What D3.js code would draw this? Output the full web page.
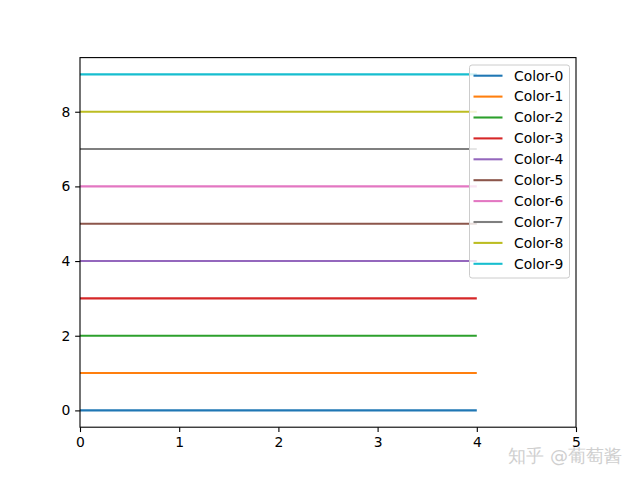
<!DOCTYPE html>
<html>
<head>
<meta charset="utf-8">
<script src="https://cdn.jsdelivr.net/npm/d3@7"></script>
<style>
  body { margin: 0; background: #fff; }
  text { font-family: "DejaVu Sans", sans-serif; }
</style>
</head>
<body>
<div class="canvas"></div>
<script>
// data
const names = ['Color-0','Color-1','Color-2','Color-3','Color-4','Color-5','Color-6','Color-7','Color-8','Color-9'];
const levels = [0, 1, 2, 3, 4, 5, 6, 7, 8, 9];
const xStart = 0;
const xEnd = 4;
const colors = ['#1f77b4','#ff7f0e','#2ca02c','#d62728','#9467bd','#8c564b','#e377c2','#7f7f7f','#bcbd22','#17becf'];
const xTicks = [0, 1, 2, 3, 4, 5];
const yTicks = [0, 2, 4, 6, 8];

// chart dimensions (matplotlib defaults)
const dims = { width: 640, height: 480 };
const box = { left: 80, right: 576, top: 57.6, bottom: 427.2 };

const svg = d3.select('.canvas')
  .append('svg')
  .attr('width', dims.width)
  .attr('height', dims.height);

const x = d3.scaleLinear().domain([0, 5]).range([box.left, box.right]);
const y = d3.scaleLinear().domain([-0.45, 9.45]).range([box.bottom, box.top]);

// lines
const graph = svg.append('g');
graph.selectAll('line.series')
  .data(levels)
  .enter()
  .append('line')
    .attr('class', 'series')
    .attr('x1', x(xStart))
    .attr('x2', x(xEnd))
    .attr('y1', d => y(d))
    .attr('y2', d => y(d))
    .attr('stroke', (d, i) => colors[i])
    .attr('stroke-width', 2.08);

// axes
const xAxis = d3.axisBottom(x).tickValues(xTicks).tickSize(4.86).tickPadding(4.86).tickFormat(d3.format('d'));
const yAxis = d3.axisLeft(y).tickValues(yTicks).tickSize(4.86).tickPadding(4.86).tickFormat(d3.format('d'));

const gx = svg.append('g')
  .attr('transform', `translate(0, ${box.bottom})`)
  .call(xAxis);
const gy = svg.append('g')
  .attr('transform', `translate(${box.left}, 0)`)
  .call(yAxis);

[gx, gy].forEach(g => {
  g.select('.domain').remove();
  g.selectAll('.tick line').attr('stroke', '#000').attr('stroke-width', 1.1);
  g.selectAll('.tick text')
    .attr('fill', '#000')
    .attr('font-size', '13.9px')
    .attr('font-family', 'DejaVu Sans');
});

// frame
svg.append('rect')
  .attr('x', box.left)
  .attr('y', box.top)
  .attr('width', box.right - box.left)
  .attr('height', box.bottom - box.top)
  .attr('fill', 'none')
  .attr('stroke', '#000')
  .attr('stroke-width', 1.1);

// legend
const legend = svg.append('g')
  .attr('transform', 'translate(469.5, 65)');

legend.append('rect')
  .attr('width', 100)
  .attr('height', 213)
  .attr('rx', 2.5)
  .attr('fill', 'rgba(255,255,255,0.8)')
  .attr('stroke', '#cccccc')
  .attr('stroke-width', 1);

const rowH = 20.9;
const items = legend.selectAll('g.item')
  .data(names)
  .enter()
  .append('g')
    .attr('class', 'item')
    .attr('transform', (d, i) => `translate(0, ${10.7 + i * rowH})`);

items.append('line')
  .attr('x1', 4)
  .attr('x2', 33)
  .attr('stroke', (d, i) => colors[i])
  .attr('stroke-width', 2.08);

items.append('text')
  .attr('x', 44.5)
  .attr('dy', '0.35em')
  .attr('font-size', '13.9px')
  .attr('fill', '#000')
  .text(d => d);

// watermark
svg.append('text')
  .attr('x', 622)
  .attr('y', 462)
  .attr('text-anchor', 'end')
  .attr('font-family', '"Noto Sans CJK SC", sans-serif')
  .attr('font-size', '18px')
  .attr('fill', '#cfcfcf')
  .text('知乎 @葡萄酱');
</script>
</body>
</html>
